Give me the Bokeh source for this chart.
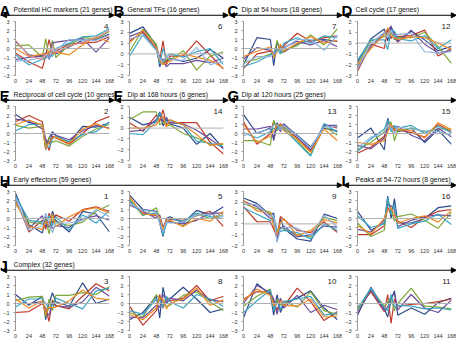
from bokeh.plotting import figure
from bokeh.layouts import column, row
from bokeh.models import Range1d, FixedTicker, Span, Label, Arrow, NormalHead
from bokeh.embed import file_html
from bokeh.resources import INLINE

FONT = "Liberation Sans"
TIMES = [0, 24, 48, 54, 60, 66, 72, 96, 120, 144, 168]
X_TICKS = [0, 24, 48, 72, 96, 120, 144, 168]
COLORS = ["#2E4A8B", "#C0392B", "#7FA83A", "#6B4C9A", "#3AA6C4", "#F08A24",
          "#8FB4E0", "#D98C8C", "#B5CC73", "#9E88C2", "#1B6F86", "#B85B12"]

# ---- cluster profiles (log ratio vs time) ----
P4 = [[0.8, -0.7, -0.9, -0.5, -1.2, -0.4, -0.6, 0.2, 0.9, 1.0, 1.6],
      [-0.5, -1.5, -2.2, -0.8, 1.0, -0.6, -0.3, 0.5, 0.6, 0.7, 1.3],
      [0.3, 0.4, -1.0, 1.1, -0.9, 0.9, -1.0, 0.4, 1.2, 1.1, 1.9],
      [-1.2, -1.0, -0.8, -0.6, -0.9, 0.6, 0.7, 0.9, 1.1, -0.4, 1.2],
      [-0.7, -1.8, -1.2, -1.1, -0.5, -0.9, 0.0, 0.6, 1.3, 1.4, 2.2],
      [0.0, -0.9, -0.6, -0.8, -0.3, -0.6, -0.4, -0.7, 0.4, 1.3, 0.7],
      [-1.4, -1.3, -1.0, -0.7, -1.1, -0.2, -0.2, 1.0, 0.9, 0.9, 1.5],
      [0.9, -0.8, -1.2, -0.6, -0.7, 0.2, -0.5, 0.3, 0.7, 1.2, 2.0]]
P6 = [[1.9, 2.5, 0.8, -1.2, -0.5, -0.7, -0.4, -0.7, -0.4, 0.4, -0.4],
      [1.2, 2.0, 0.5, -0.5, 1.2, -1.0, -0.2, -0.2, 1.2, -0.1, -1.4],
      [0.2, 2.3, 0.9, -0.8, -0.9, -0.4, -0.6, 0.3, -1.5, -0.2, 0.2],
      [1.6, 2.1, 0.6, -0.3, -0.6, -1.2, -0.9, -0.9, -0.6, -0.8, -0.4],
      [-0.2, 1.8, 0.4, -0.9, 0.5, -0.3, 0.0, -0.3, 0.2, 0.5, -1.0],
      [1.0, 2.2, 0.6, -0.6, -1.0, -0.8, -0.7, 0.0, -0.3, -0.6, -1.3],
      [1.4, 1.7, 0.3, -0.4, -0.7, -0.2, -0.5, -0.6, 0.6, -1.0, -0.7]]
P7 = [[-1.8, 1.2, 1.0, -1.9, 0.8, -0.3, -0.4, 0.5, 0.9, 1.0, 0.8],
      [-2.2, -0.6, -0.3, -0.5, -0.2, 0.0, 0.3, 1.7, 0.8, 1.2, 1.4],
      [-1.5, -1.2, -0.6, -0.8, 0.9, -0.6, -0.2, 0.3, 1.5, 0.4, 2.2],
      [-1.2, 0.1, -0.2, -0.7, -0.1, 0.2, 0.1, 0.8, 0.4, 0.9, 0.2],
      [-2.0, -1.5, -0.7, -0.4, 0.0, -0.6, 0.6, 1.2, 0.6, 1.4, 1.2],
      [-0.9, -0.3, 0.2, -1.0, -0.4, 0.5, -0.3, 0.6, 1.3, 0.6, 0.9],
      [-1.7, -0.9, -0.9, -0.6, -0.3, -0.2, 0.0, 1.0, 1.0, -0.2, 1.5]]
P12 = [[-1.8, 0.4, 1.3, 0.2, 1.5, 0.8, 0.2, 1.1, 0.3, -0.7, -0.3],
       [-2.6, -0.1, -0.5, 1.4, 0.4, 1.0, 0.6, 0.7, 1.2, -1.2, -0.5],
       [-2.1, 0.2, 0.6, 0.8, 1.0, 0.3, 0.5, 0.5, 1.0, -0.3, -1.9],
       [-2.3, -0.3, 0.9, 1.1, 1.6, 0.5, 0.1, 1.2, -0.1, -0.9, -0.7],
       [-1.6, 0.3, 0.3, -0.6, 1.2, 1.1, 0.4, 0.2, 0.7, -0.5, 0.3],
       [-2.0, -0.5, 0.8, 1.4, 0.7, 0.5, 0.3, 0.6, 0.5, 0.0, -0.6],
       [-2.4, 0.0, 1.0, 0.5, 1.2, 0.6, 0.8, 0.9, -0.8, -0.9, -0.8]]
P2 = [[2.1, 1.2, 1.0, -1.8, -0.5, 0.2, -0.2, -1.0, 0.8, 0.7, 1.2],
      [1.3, 2.0, 1.3, -0.8, -1.9, -0.3, -0.5, -1.2, 0.0, 1.3, 1.9],
      [0.9, 0.6, 0.8, -1.6, -0.4, -1.0, -0.8, -1.4, -0.3, 0.5, 1.0],
      [1.6, 1.4, 0.5, -0.6, -1.2, 0.0, -0.2, -0.7, 0.3, 0.9, 0.6],
      [0.3, 1.0, 1.0, -1.3, -1.6, -0.6, -0.3, -0.9, -0.1, 0.2, 1.3],
      [1.0, 1.5, 0.9, -1.7, -1.0, -0.5, -0.4, -1.1, 0.5, 1.1, 0.5]]
P14 = [[1.0, 0.3, 0.6, 1.5, 0.2, 0.8, 0.4, 0.0, -1.5, -0.5, -1.9],
       [0.5, -0.3, 1.2, 0.6, 1.7, 0.3, 0.5, 0.5, 0.5, -1.3, -2.4],
       [0.8, 1.5, 1.5, 0.3, 0.6, 0.2, 0.3, -0.5, -0.9, -1.5, -1.5],
       [-0.3, -0.2, 0.8, 1.2, 0.6, 1.0, 0.5, 0.4, -0.2, -1.0, -1.9],
       [-0.5, -0.6, 0.6, 1.4, 0.9, 0.5, 0.7, 0.3, -1.2, -1.4, -1.7],
       [0.0, 0.0, 0.3, 0.9, 1.1, 0.1, 0.8, 0.3, -0.6, -1.6, -1.4]]
P13 = [[2.1, 0.0, 0.6, -0.5, 1.2, 0.5, 1.0, -0.2, -1.5, 0.6, 0.3],
       [1.3, -1.2, 0.0, 1.4, 0.5, 1.1, 0.7, -0.5, -2.0, 1.0, 0.6],
       [-0.8, -0.8, -1.3, 1.5, 0.3, 0.9, 0.8, -0.8, -2.4, 0.8, -0.2],
       [0.5, 0.5, 0.8, -0.8, 0.9, 0.2, 1.1, -0.4, -1.8, 0.9, 0.9],
       [0.1, -0.5, 0.2, 0.6, 0.5, 0.8, 0.5, -1.0, -2.5, 1.1, 0.1],
       [1.0, -1.0, -0.3, 0.3, 0.9, 1.0, 0.3, -0.6, -2.1, 0.5, -0.8],
       [-0.2, 0.1, 0.5, 0.9, 1.0, 0.4, 0.9, -0.3, -1.6, 0.7, 0.8]]
P15 = [[-0.5, 0.6, -1.8, 1.7, 0.5, 0.6, 0.2, 0.6, -1.0, 0.4, -1.2],
       [-2.2, -1.5, -0.3, 1.2, 0.8, 0.3, 0.4, 0.1, -0.4, 1.0, 0.2],
       [-1.8, -1.0, 0.2, 0.8, 1.3, -0.8, 0.3, 0.6, 0.2, 0.5, 0.5],
       [-1.3, -1.7, -0.5, 0.5, 0.9, 0.7, 0.8, -0.2, -0.8, 0.6, -0.4],
       [-2.0, -0.6, 0.5, 1.5, 0.2, 0.9, 0.6, 0.9, 0.0, 0.8, 0.1],
       [-1.0, -1.2, -0.8, 0.2, 1.0, 0.4, 0.5, 0.3, -0.5, 1.2, 0.4],
       [-1.6, -0.4, 0.0, 1.0, 0.6, 0.0, 0.7, 0.5, 0.3, 0.2, -0.2]]
P1 = [[2.8, -0.7, -1.6, 0.2, -1.0, 0.8, -0.2, -1.5, 0.8, 0.5, -1.5],
      [2.2, -1.5, -0.2, -1.2, 0.6, -0.5, 0.4, -0.3, 1.0, 1.3, 0.8],
      [1.6, -0.4, -0.6, 0.0, -1.7, 0.2, -0.4, -0.8, -0.4, 0.8, 1.5],
      [2.0, -1.1, 0.3, -0.9, -0.3, -1.1, -0.8, -1.0, 0.0, 0.3, -0.2],
      [2.5, -0.2, -0.4, -0.5, 0.3, -0.8, 0.2, -1.3, 0.4, -0.5, 0.9],
      [1.8, -0.9, -1.2, -0.3, -0.8, 0.5, -0.9, 0.2, 0.9, 1.2, 0.6],
      [2.3, -1.3, -0.8, 0.6, -0.6, -1.6, -0.5, -0.5, -0.2, 1.0, 0.2]]
P5 = [[2.6, 1.0, 0.8, -0.5, -2.0, 0.0, 0.2, -0.5, 0.9, 0.4, 1.3],
      [1.8, 0.6, 0.3, -0.3, -1.4, -0.3, -0.1, -0.2, 0.3, 0.8, -0.9],
      [2.2, 0.3, 1.2, 0.1, -1.7, -0.5, -0.3, -0.8, 0.5, 0.0, 0.4],
      [1.5, 0.8, 0.0, 0.4, -1.0, -0.1, -0.4, -0.6, -0.2, 0.6, 0.6],
      [2.0, 0.4, 0.6, -0.2, -1.8, -0.6, 0.0, -0.3, 0.6, 0.2, 0.0],
      [2.4, 0.5, 0.4, 0.2, -1.2, -0.2, -0.2, -0.9, 0.0, -0.3, 0.8],
      [1.7, 0.9, 0.7, -0.6, -1.5, -0.4, -0.5, -0.4, 0.4, 0.5, 0.2]]
P9 = [[2.4, 1.9, 0.8, 1.0, -1.6, 0.5, -0.4, -1.4, -1.6, 0.9, 0.5],
      [1.6, 0.2, 0.2, -0.5, -1.2, 0.7, 0.4, -0.6, -0.8, 0.2, -0.8],
      [1.9, 1.4, 1.1, 0.3, -0.8, -0.3, -0.5, -1.0, -1.2, 0.6, 0.3],
      [2.1, 1.6, 0.5, 0.4, -1.4, -0.4, -0.2, -1.2, -1.0, -0.2, -0.3],
      [1.5, 0.9, 0.3, 0.6, -0.5, -0.7, -0.6, -0.8, -1.4, 0.0, -0.6],
      [2.2, 1.2, 1.0, -0.2, -1.0, 0.1, 0.5, -1.1, -0.6, 0.4, 0.1],
      [1.8, 1.8, 0.7, 0.8, -1.7, -0.5, -0.3, -0.4, -1.1, 0.8, -0.3]]
P16 = [[0.8, -1.3, -0.5, 2.5, 0.0, 2.2, -0.5, -0.5, 0.0, 1.2, 1.4],
       [-1.8, -1.8, -0.8, 1.2, 0.5, 0.3, -0.3, -1.0, 0.1, 0.8, 1.0],
       [-0.5, -2.0, -1.3, 2.0, 1.0, -0.3, 0.2, 0.5, -0.2, -1.1, 0.7],
       [-1.2, -1.5, -0.2, 1.6, 1.4, 1.0, -0.9, -0.2, 0.2, 0.4, 0.3],
       [0.3, -1.0, -0.6, 2.3, 0.4, 1.6, -1.1, -0.6, -0.3, 0.5, -0.7],
       [-0.8, -1.7, 0.0, 1.0, 1.2, 0.5, -0.5, 0.0, 0.3, -0.4, 0.9]]
P3 = [[1.0, -0.2, 0.8, -1.8, 0.0, 1.2, 0.2, -0.3, 2.3, 0.0, 0.5],
      [-1.0, -0.9, 0.0, -0.5, -2.0, 0.4, -0.2, -0.6, 0.8, 2.2, 1.4],
      [0.3, 0.7, 0.8, -1.5, 0.5, -0.8, 0.9, 0.9, 1.2, 1.0, 1.9],
      [0.0, 0.0, 0.2, -1.0, -1.3, 0.1, -0.3, -0.4, 0.2, 1.8, 0.8],
      [-0.4, 0.5, 0.5, 0.0, -0.6, -0.2, 0.6, 0.0, -0.6, 1.4, 1.7],
      [0.5, -0.5, 0.3, -1.2, -0.4, -0.5, -0.4, 0.3, 1.5, 0.6, 0.4]]
P8 = [[-1.8, -1.0, 0.8, -1.6, 1.8, 0.0, 0.5, 1.8, 0.5, -1.0, -0.6],
      [-0.3, -2.4, -0.8, 1.0, -0.5, 0.7, 0.3, 0.6, 2.0, 0.3, 0.8],
      [-1.0, -1.5, 1.0, 0.5, 0.2, -0.3, -0.2, 0.9, 1.3, 0.2, -0.8],
      [-1.5, -1.6, -0.2, -0.4, 1.0, 0.3, 0.6, 0.3, 1.5, 0.4, 0.2],
      [-0.8, -1.2, 0.5, 0.3, -0.4, 0.8, 0.2, -0.5, 1.0, 0.5, -0.3],
      [-1.2, -1.8, -0.5, 0.7, 0.5, -0.6, 0.0, 0.5, 1.7, -0.2, 0.4]]
P10 = [[-1.6, 2.2, 1.0, -1.3, 1.0, -1.0, 0.0, 0.6, 1.4, -0.5, -1.8],
       [0.5, 1.3, 1.3, 0.2, -0.8, 0.5, -0.3, 1.7, 0.2, -1.9, -0.9],
       [-0.3, 0.8, 1.6, -0.5, 0.4, -0.2, 0.3, -0.4, 1.3, -0.8, -1.2],
       [0.0, 2.0, 1.2, 0.5, -1.2, 0.6, -0.5, 0.9, -1.0, -0.2, -0.7],
       [-1.0, 0.3, 1.5, -0.8, 0.2, -0.6, 0.2, 0.5, 0.8, -1.3, -1.1],
       [0.3, 1.6, 0.9, -0.2, 0.0, 0.3, -0.2, -0.3, 0.5, -1.5, -1.4]]
P11 = [[-1.3, 1.8, -0.6, -1.5, 0.4, 1.4, -1.3, -0.5, -1.2, 0.1, 0.6],
       [-0.5, 1.3, -0.9, 1.0, -2.2, 0.5, -0.3, -0.1, 0.0, 0.2, 0.5],
       [-0.8, 1.6, -0.3, 0.2, 0.6, -0.8, 0.0, 1.7, -0.3, -0.4, -0.6],
       [-1.1, 1.5, -0.8, -0.4, 0.8, 1.1, -0.7, 1.0, -0.5, -1.0, 0.4],
       [-0.6, 1.7, -0.5, -0.8, 1.0, -0.4, -0.2, -0.3, -0.6, -0.5, -0.7]]

# grid of panels (row by row): cluster number, profiles, y limits
PANEL_NUMBERS = [[4, 6, 7, 12], [2, 14, 13, 15], [1, 5, 9, 16], [3, 8, 10, 11]]
PANEL_DATA = [[P4, P6, P7, P12], [P2, P14, P13, P15], [P1, P5, P9, P16], [P3, P8, P10, P11]]
Y_LIMITS = [[(-3, 3), (-2, 3), (-3, 3), (-3, 2)],
            [(-3, 3), (-3, 2), (-3, 3), (-3, 3)],
            [(-3, 3), (-3, 3), (-2, 3), (-3, 3)],
            [(-3, 3), (-3, 3), (-3, 3), (-3, 3)]]

# group headers: letter, title, first column, last column (exclusive)
HEADERS = [
    [("A", "Potential HC markers (21 genes)", 0, 1), ("B", "General TFs (16 genes)", 1, 2),
     ("C", "Dip at 54 hours (18 genes)", 2, 3), ("D", "Cell cycle (17 genes)", 3, 4)],
    [("E", "Reciprocal of cell cycle (10 genes)", 0, 1), ("F", "Dip at 168 hours (6 genes)", 1, 2),
     ("G", "Dip at 120 hours (25 genes)", 2, 4)],
    [("H", "Early effectors (59 genes)", 0, 3), ("I", "Peaks at 54-72 hours (8 genes)", 3, 4)],
    [("J", "Complex (32 genes)", 0, 4)],
]

PW, PH, HH = 114, 67, 18
TOTAL_W = PW * 4


def make_panel(num, series, lo, hi):
    p = figure(width=PW, height=PH, x_range=Range1d(0, 168), y_range=Range1d(lo, hi),
               output_backend="svg", toolbar_location=None,
               min_border_left=13, min_border_right=5, min_border_top=3, min_border_bottom=9)
    p.outline_line_color = None
    p.grid.visible = False
    p.background_fill_color = "white"
    p.border_fill_color = "white"
    p.add_layout(Span(location=0, dimension="width", line_color="#b0b0b0", line_width=1))
    for i, ys in enumerate(series):
        p.line(TIMES, ys, line_color=COLORS[i % len(COLORS)], line_width=1.2)
    xa = p.xaxis[0]
    xa.ticker = FixedTicker(ticks=X_TICKS)
    xa.axis_line_color = None
    xa.major_tick_line_color = None
    xa.minor_tick_line_color = None
    xa.major_tick_out = 0
    xa.major_tick_in = 0
    xa.major_label_standoff = 3
    xa.major_label_text_font = FONT
    xa.major_label_text_font_size = "5.5px"
    xa.major_label_text_color = "#333333"
    ya = p.yaxis[0]
    ya.ticker = FixedTicker(ticks=list(range(lo, hi + 1)))
    ya.axis_line_color = "#9a9a9a"
    ya.major_tick_line_color = "#9a9a9a"
    ya.minor_tick_line_color = None
    ya.major_tick_out = 2
    ya.major_tick_in = 0
    ya.major_label_standoff = 4
    ya.major_label_text_font = FONT
    ya.major_label_text_font_size = "5.5px"
    ya.major_label_text_color = "#333333"
    p.add_layout(Label(x=168, y=hi, x_offset=-1, y_offset=-2, text=str(num),
                       text_align="right", text_baseline="top", text_font=FONT,
                       text_font_size="8px", text_color="#222222"))
    return p


def make_header(groups):
    h = figure(width=TOTAL_W, height=HH, x_range=Range1d(0, 4), y_range=Range1d(0, 1),
               output_backend="svg", toolbar_location=None,
               x_axis_location=None, y_axis_location=None, min_border=0)
    h.outline_line_color = None
    h.grid.visible = False
    for letter, title, c0, c1 in groups:
        h.add_layout(Arrow(start=NormalHead(size=5, line_color="black", fill_color="black"),
                           end=NormalHead(size=5, line_color="black", fill_color="black"),
                           x_start=c0 + 0.01, y_start=0.18, x_end=c1 - 0.002, y_end=0.18,
                           line_color="black", line_width=1))
        h.add_layout(Label(x=c0, y=0.0, x_offset=-1, text=letter, text_font=FONT,
                           text_font_style="bold", text_font_size="15px",
                           text_baseline="bottom", text_color="black"))
        h.add_layout(Label(x=c0, y=0.32, x_offset=13, text=title, text_font=FONT,
                           text_font_size="6.8px", text_baseline="bottom", text_color="#111111"))
    return h


rows = []
for r in range(4):
    rows.append(make_header(HEADERS[r]))
    panels = [make_panel(PANEL_NUMBERS[r][c], PANEL_DATA[r][c], *Y_LIMITS[r][c]) for c in range(4)]
    rows.append(row(*panels))

layout = column(*rows)
open("out.html", "w").write(file_html(layout, INLINE))
